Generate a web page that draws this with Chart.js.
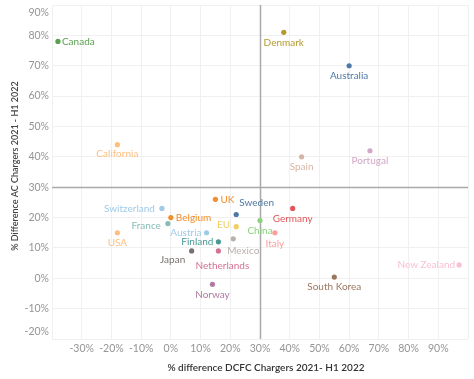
<!DOCTYPE html>
<html>
<head>
<meta charset="utf-8">
<script src="https://cdn.jsdelivr.net/npm/chart.js@4.4.1/dist/chart.umd.min.js"></script>
<style>
  html, body { margin: 0; padding: 0; background: #fff; }
  #wrap { width: 474px; height: 379px; }
</style>
</head>
<body>
<div id="wrap"><canvas id="chart" width="474" height="379"></canvas></div>
<script>
// data (% change 2021 -> H1 2022)

const countries = ["Canada", "California", "Denmark", "Australia", "Spain", "Portugal",
  "UK", "Switzerland", "Belgium", "France", "USA", "Austria", "Finland", "Japan",
  "Netherlands", "Norway", "Mexico", "EU", "Sweden", "China", "Germany", "Italy",
  "South Korea", "New Zealand"];

const dcfcChange = [-38, -18, 38, 60, 44, 67,
  15, -3, 0, -1, -18, 12, 16, 7,
  16, 14, 21, 22, 22, 30, 41, 35,
  55, 97];

const acChange = [78, 44, 81, 70, 40, 42,
  26, 23, 20, 18, 15, 15, 12, 9,
  9, -2, 13, 17, 21, 19, 23, 15,
  0.4, 4.4];

const xTicks = [-30, -20, -10, 0, 10, 20, 30, 40, 50, 60, 70, 80, 90];
const yTicks = [-20, -10, 0, 10, 20, 30, 40, 50, 60, 70, 80, 90];
const refX = 30;
const refY = 30;

// mark colours (tableau 20 style)
const colors = {
  "Canada": "#59a14f", "California": "#ffbe7d", "Denmark": "#b6992d", "Australia": "#4e79a7",
  "Spain": "#d7b5a6", "Portugal": "#d4a6c8", "UK": "#f28e2b", "Switzerland": "#a0cbe8",
  "Belgium": "#f28e2b", "France": "#86bcb6", "USA": "#ffbe7d", "Austria": "#a0cbe8",
  "Finland": "#499894", "Japan": "#79706e", "Netherlands": "#d37295", "Norway": "#b07aa1",
  "Mexico": "#bab0ac", "EU": "#f1ce63", "Sweden": "#4e79a7", "China": "#8cd17d",
  "Germany": "#e15759", "Italy": "#ff9d9a", "South Korea": "#9d7660", "New Zealand": "#fabfd2"
};

// where each label sits relative to its dot: [dx, dy, align]
const labelPlace = {
  "Canada": [4, 0, "left"], "California": [0, 9, "center"], "Denmark": [0, 10, "center"],
  "Australia": [0, 10, "center"], "Spain": [0, 10, "center"], "Portugal": [0, 10, "center"],
  "UK": [5, 0, "left"], "Switzerland": [-7, 0, "right"], "Belgium": [5, 0, "left"],
  "France": [-7, 2, "right"], "USA": [0, 10, "center"], "Austria": [-5, 0, "right"],
  "Finland": [-5, 0, "right"], "Japan": [-19, 9, "center"], "Netherlands": [4, 15, "center"],
  "Norway": [0, 10, "center"], "Mexico": [10, 12, "center"], "EU": [-6, -2, "right"],
  "Sweden": [3, -12, "left"], "China": [0, 10, "center"], "Germany": [0, 10, "center"],
  "Italy": [0, 11, "center"], "South Korea": [0, 10, "center"], "New Zealand": [-4, 0, "right"]
};

const FONT = "Lato, 'Open Sans', sans-serif";

const points = countries.map((c, i) => ({ x: dcfcChange[i], y: acChange[i], name: c }));

// reference lines + tick labels + titles + point labels
const extras = {
  id: "extras",
  beforeDatasetsDraw(chart) {
    const ctx = chart.ctx;
    const a = chart.chartArea;
    const xs = chart.scales.x, ys = chart.scales.y;
    ctx.save();
    ctx.strokeStyle = "#a9a9a9";
    ctx.lineWidth = 1.5;
    const px = Math.round(xs.getPixelForValue(refX)) + 0.5;
    const py = Math.round(ys.getPixelForValue(refY)) + 0.5;
    ctx.beginPath();
    ctx.moveTo(px, a.top);
    ctx.lineTo(px, a.bottom);
    ctx.moveTo(a.left, py);
    ctx.lineTo(a.right, py);
    ctx.stroke();
    ctx.restore();
  },
  afterDraw(chart) {
    const ctx = chart.ctx;
    const a = chart.chartArea;
    const xs = chart.scales.x, ys = chart.scales.y;
    ctx.save();

    // tick labels
    ctx.fillStyle = "#959595";
    ctx.font = "10.5px " + FONT;
    ctx.textAlign = "center";
    ctx.textBaseline = "middle";
    xTicks.forEach(t => {
      ctx.fillText(t + "%", xs.getPixelForValue(t), a.bottom + 10);
    });
    ctx.textAlign = "right";
    yTicks.forEach(t => {
      let y = ys.getPixelForValue(t);
      y = Math.max(a.top + 8, Math.min(a.bottom - 7, y));
      ctx.fillText(t + "%", a.left - 3, y);
    });

    // axis titles
    ctx.fillStyle = "#333";
    ctx.font = "600 10px " + FONT;
    ctx.textAlign = "center";
    ctx.fillText("% difference DCFC Chargers 2021- H1 2022", 266, 368);
    ctx.save();
    ctx.font = "600 9px " + FONT;
    ctx.fillStyle = "#444";
    ctx.translate(15, 166);
    ctx.rotate(-Math.PI / 2);
    ctx.fillText("% Difference AC Chargers 2021 - H1 2022", 0, 0);
    ctx.restore();

    // point labels
    ctx.font = "10px " + FONT;
    const meta = chart.getDatasetMeta(0);
    meta.data.forEach((el, i) => {
      const name = countries[i];
      const p = labelPlace[name];
      ctx.fillStyle = colors[name];
      ctx.textAlign = p[2];
      ctx.fillText(name, el.x + p[0], el.y + p[1]);
    });
    ctx.restore();
  }
};

new Chart(document.getElementById("chart"), {
  type: "scatter",
  data: {
    datasets: [{
      data: points,
      pointBackgroundColor: countries.map(c => colors[c]),
      pointBorderWidth: 0,
      pointRadius: 2.6,
      pointHoverRadius: 2.6
    }]
  },
  options: {
    responsive: false,
    devicePixelRatio: 1,
    animation: false,
    layout: { padding: { left: 52, right: 6, top: 5, bottom: 40 } },
    plugins: { legend: { display: false }, tooltip: { enabled: false } },
    scales: {
      x: {
        type: "linear", min: -40, max: 100,
        ticks: { display: false, stepSize: 10 },
        grid: { color: "#f0f0f0", drawTicks: false },
        border: { display: false },
        afterFit: s => { s.height = 0; }
      },
      y: {
        type: "linear", min: -20, max: 90,
        ticks: { display: false, stepSize: 10 },
        grid: { color: "#f0f0f0", drawTicks: false },
        border: { display: false },
        afterFit: s => { s.width = 0; }
      }
    }
  },
  plugins: [extras]
});
</script>
</body>
</html>
